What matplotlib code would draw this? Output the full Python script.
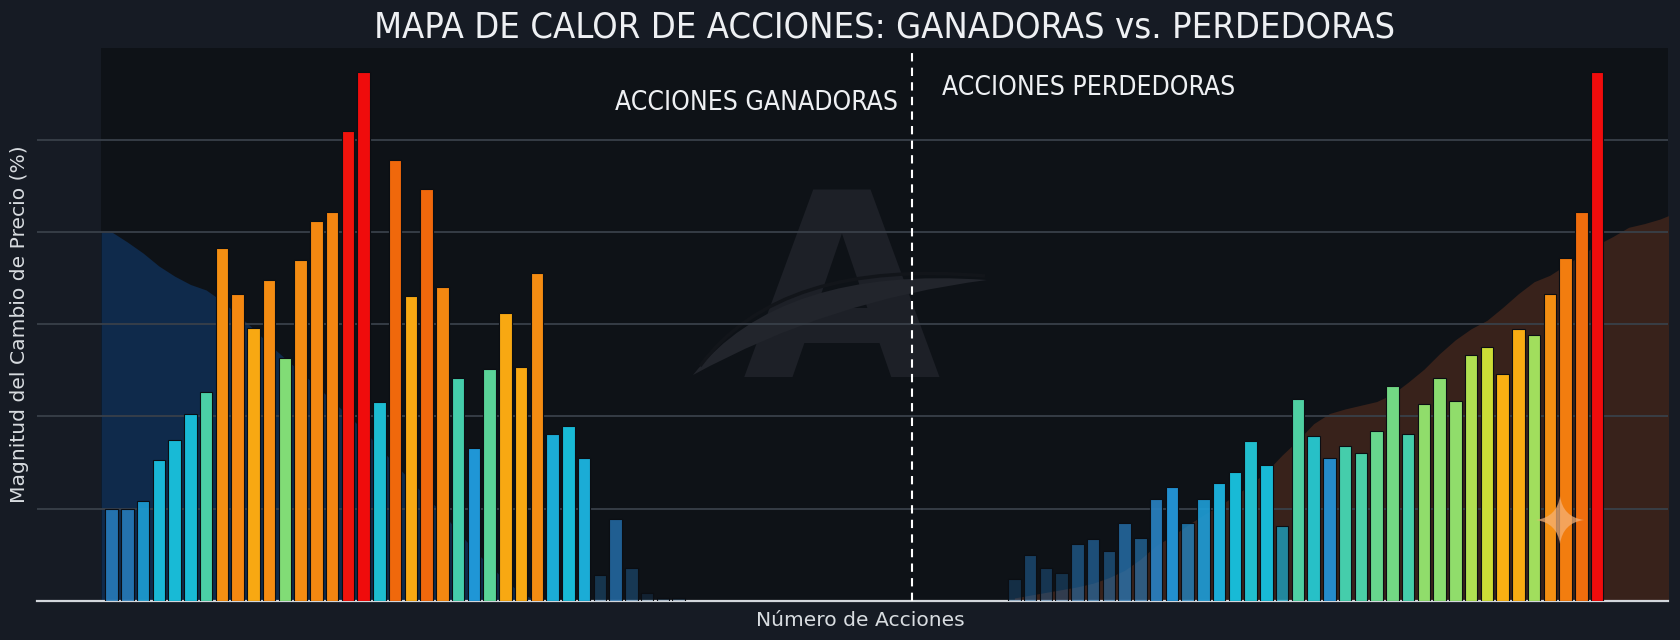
import numpy as np
import matplotlib
matplotlib.use("Agg")
import matplotlib.pyplot as plt
from matplotlib.colors import LinearSegmentedColormap
from matplotlib.path import Path
from matplotlib.patches import PathPatch
from matplotlib.transforms import Affine2D
from matplotlib import font_manager as fm

# ---------------- data ----------------
titulo = "MAPA DE CALOR DE ACCIONES: GANADORAS vs. PERDEDORAS"
etiqueta_ganadoras = "ACCIONES GANADORAS"
etiqueta_perdedoras = "ACCIONES PERDEDORAS"
eje_x = "Número de Acciones"
eje_y = "Magnitud del Cambio de Precio (%)"

# magnitude of price change (%) per stock
ganadoras = [5.0, 4.95, 5.4, 7.65, 8.7, 10.15, 11.3, 19.1, 16.65, 14.8,
             17.4, 13.15, 18.45, 20.6, 21.1, 25.45, 28.65, 10.75, 23.9, 16.55,
             22.35, 17.0, 12.1, 8.3, 12.55, 15.6, 12.7, 17.75, 9.05, 9.45,
             7.75, 1.4, 4.45, 1.8, 0.4, 0.15, 0.15]
# heat score (0..1) per stock
calor_ganadoras = [0.16, 0.16, 0.28, 0.34, 0.35, 0.35, 0.45, 0.79, 0.81, 0.73,
                   0.80, 0.55, 0.80, 0.81, 0.82, 0.99, 1.00, 0.36, 0.90, 0.73,
                   0.90, 0.81, 0.44, 0.25, 0.48, 0.73, 0.73, 0.80, 0.31, 0.35,
                   0.31, 0.15, 0.12, 0.12, 0.10, 0.10, 0.10]

perdedoras = [1.2, 2.5, 1.75, 1.5, 3.05, 3.35, 2.7, 4.2, 3.4, 5.5,
              6.15, 4.2, 5.5, 6.4, 7.0, 8.65, 7.35, 4.05, 10.95, 8.95,
              7.75, 8.4, 8.0, 9.2, 11.65, 9.05, 10.65, 12.1, 10.85, 13.3,
              13.75, 12.3, 14.75, 14.4, 16.65, 18.6, 21.1, 28.65]
calor_perdedoras = [0.10, 0.10, 0.10, 0.10, 0.12, 0.12, 0.12, 0.14, 0.15, 0.16,
                    0.22, 0.22, 0.27, 0.31, 0.35, 0.37, 0.35, 0.33, 0.46, 0.38,
                    0.20, 0.44, 0.45, 0.50, 0.52, 0.44, 0.57, 0.56, 0.57, 0.61,
                    0.65, 0.71, 0.72, 0.59, 0.79, 0.84, 0.89, 1.00]

# smoothed background trend (%) sampled at stock positions
tendencia_ganadoras = [20.0, 19.45, 18.85, 18.15, 17.6, 17.15, 16.85, 16.25, 15.5, 14.75,
                       13.9, 13.15, 12.4, 11.65, 10.85, 10.05, 9.25, 8.3, 7.4, 6.5,
                       5.6, 4.75, 3.75, 2.75, 1.9, 1.1, 0.4, 0.0]
tendencia_perdedoras = [0.15, 0.3, 0.45, 0.6, 0.75, 0.95, 1.25, 1.65, 2.25, 3.0,
                        3.5, 4.1, 4.65, 5.15, 5.7, 6.3, 7.0, 7.9, 8.7, 9.6,
                        10.15, 10.4, 10.6, 10.8, 11.2, 11.85, 12.55, 13.4, 14.15, 14.75,
                        15.2, 15.9, 16.65, 17.3, 17.65, 18.2, 18.75, 19.3, 19.75, 20.25,
                        20.45, 20.7, 21.05]

# ---------------- style ----------------
FIG_BG = "#161b24"
PANEL = "#0e1217"
GRID = "#394049"
TXT = "#eef0f3"

heat_cmap = LinearSegmentedColormap.from_list("calor", [
    (0.00, "#1d5a9c"), (0.15, "#2a7fc0"), (0.25, "#1f96d6"), (0.35, "#18bad6"),
    (0.45, "#4acfa6"), (0.55, "#82dc76"), (0.62, "#b6e04c"), (0.66, "#d2dc30"),
    (0.71, "#f9b012"), (0.80, "#f48c12"), (0.90, "#f06a0c"), (1.00, "#f00c0c")])

cond_path = fm.findfont(fm.FontProperties(family="DejaVu Sans", stretch="condensed"))
has_cond = "Condensed" in cond_path
title_size = 26.0 if has_cond else 23.3
ann_size = 19.0 if has_cond else 17.1
stretch = "condensed" if has_cond else "normal"

W, H = 1680, 640
fig = plt.figure(figsize=(W / 100, H / 100), dpi=100, facecolor=FIG_BG)
ax = fig.add_axes([37 / W, 1 - 600.7 / H, (1668 - 37) / W, (600.7 - 47.5) / H])
ax.set_facecolor(FIG_BG)

n_g = len(ganadoras)
x_g = np.arange(n_g, dtype=float)
x_p = 57.32 + np.arange(len(perdedoras))
divider = 50.82
x_left, x_right = -4.74, 98.82
panel_left = -0.67
ymax = 30.0

ax.set_xlim(x_left, x_right)
ax.set_ylim(0, ymax)

# dark panel
ax.axvspan(panel_left, x_right, color=PANEL, zorder=0.2, lw=0)

# background trends
tg = np.array(tendencia_ganadoras)
xg_fill = np.r_[panel_left, x_g[:len(tg)]]
ax.fill_between(xg_fill, 0, np.r_[tg[0], tg], color="#0f2a4b", lw=0, zorder=1)
tp = np.array(tendencia_perdedoras)
xp_fill = 57.32 + np.arange(len(tp))
ax.fill_between(xp_fill, 0, tp, color="#38221b", lw=0, zorder=1)

# grid
ax.set_yticks([5, 10, 15, 20, 25])
ax.set_axisbelow("line")
ax.yaxis.grid(True, color=GRID, lw=1.3)
ax.xaxis.grid(False)
ax.tick_params(length=0, labelbottom=False, labelleft=False)
for s in ["top", "right", "left"]:
    ax.spines[s].set_visible(False)
ax.spines["bottom"].set_color("#d3d7dc")
ax.spines["bottom"].set_linewidth(1.6)


def bar_colors(vals, heats):
    out = []
    for v, c in zip(vals, heats):
        r, g, b, _ = heat_cmap(c)
        a = float(np.clip(0.12 + 0.72 * v / 5.0, 0.15, 1.0))
        out.append((r, g, b, a))
    return out


ax.bar(x_g, ganadoras, width=0.8, color=bar_colors(ganadoras, calor_ganadoras),
       edgecolor="#0b0e13", linewidth=0.8, zorder=3)
ax.bar(x_p, perdedoras, width=0.8, color=bar_colors(perdedoras, calor_perdedoras),
       edgecolor="#0b0e13", linewidth=0.8, zorder=3)

# divider
ax.axvline(divider, color="white", lw=1.5, ls=(0, (4, 3)), zorder=4)

# section labels
ax.text(divider - 0.9, 26.6, etiqueta_ganadoras, color=TXT, fontsize=ann_size,
        fontstretch=stretch, ha="right", va="baseline", zorder=5)
ax.text(divider + 1.9, 27.4, etiqueta_perdedoras, color=TXT, fontsize=ann_size,
        fontstretch=stretch, ha="left", va="baseline", zorder=5)

# title
fig.text(884.5 / W, 1 - 37.5 / H, titulo, color=TXT, fontsize=title_size,
         fontstretch=stretch, ha="center", va="baseline")

# axis labels
ax.set_xlabel(eje_x, color="#d8dce0", fontsize=14.6)
ax.xaxis.label.set_va("baseline")
ax.xaxis.set_label_coords((860 - 37) / 1631, (600.7 - 625.7) / 553.2)
ax.set_ylabel(eje_y, color="#d8dce0", fontsize=14.6)
ax.yaxis.set_label_coords((29.5 - 37) / 1631, 0.5)

# watermark logo "A" with swoosh
ax.text(841.5 / W, 1 - 377 / H, "A", transform=fig.transFigure, fontsize=184,
        fontweight="bold", color="#1d2027", ha="center", va="baseline", zorder=0.8)
px = Affine2D().scale(1 / W, -1 / H).translate(0, 1) + fig.transFigure
swoosh = Path([(693, 375), (780, 265), (987, 280), (830, 300), (693, 375), (693, 375)],
              [Path.MOVETO, Path.CURVE3, Path.CURVE3, Path.CURVE3, Path.CURVE3, Path.CLOSEPOLY])
ax.add_patch(PathPatch(swoosh, transform=px, facecolor="#22252c", edgecolor="none", zorder=0.85))
edge = Path([(700, 366), (780, 258), (985, 276)], [Path.MOVETO, Path.CURVE3, Path.CURVE3])
ax.add_patch(PathPatch(edge, transform=px, facecolor="none", edgecolor="#12151a", lw=2.5, zorder=0.86))

# sparkle watermark
k = 0.12
star = Path([(0, 1), (k, k), (1, 0), (k, -k), (0, -1), (-k, -k), (-1, 0), (-k, k), (0, 1), (0, 1)],
            [Path.MOVETO, Path.CURVE3, Path.CURVE3, Path.CURVE3, Path.CURVE3,
             Path.CURVE3, Path.CURVE3, Path.CURVE3, Path.CURVE3, Path.CLOSEPOLY])
st = Affine2D().scale(24, 24).translate(1560, 520) + px
ax.add_patch(PathPatch(star, transform=st, facecolor="#f5b27a", edgecolor="none",
                       alpha=0.72, zorder=6))

fig.savefig("out.png", dpi=100, facecolor=FIG_BG)
